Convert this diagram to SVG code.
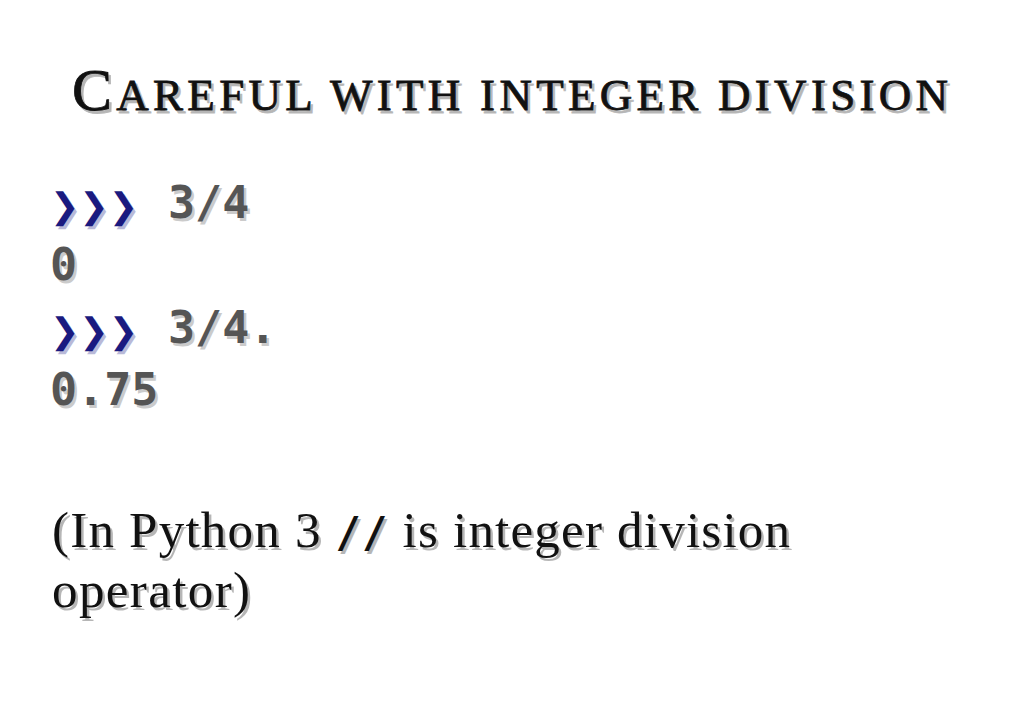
<svg xmlns="http://www.w3.org/2000/svg" xmlns:xlink="http://www.w3.org/1999/xlink" width="1024" height="717" viewBox="0 0 1024 717">
<style>
.t{font-family:"Liberation Serif",serif;font-size:60px;fill:#111;stroke:#111;stroke-width:0.8}
.c{font-family:"DejaVu Sans Mono",monospace;font-weight:bold;font-size:45px;fill:#555}
.p{fill:#1a1a80;font-family:"DejaVu Sans",sans-serif}
.b{font-family:"Liberation Serif",serif;font-size:51px;fill:#111}
.m{font-family:"DejaVu Sans Mono",monospace;font-weight:bold;font-size:42px}
</style>
<rect width="1024" height="717" fill="#fff"/>
<defs>
<g id="all">
<text class="t" x="72" y="110" textLength="876">C<tspan font-size="45">AREFUL WITH INTEGER DIVISION</tspan></text>
<text class="c" x="50" y="218"><tspan class="p" font-size="35">❯❯❯</tspan><tspan x="168">3/4</tspan></text>
<text class="c" x="50" y="280">0</text>
<text class="c" x="50" y="343"><tspan class="p" font-size="35">❯❯❯</tspan><tspan x="168">3/4.</tspan></text>
<text class="c" x="50" y="405">0.75</text>
<text class="b" x="52" y="547" textLength="738">(In Python 3 <tspan class="m">//</tspan> is integer division</text>
<text class="b" x="52" y="607" textLength="198">operator)</text>
</g>
</defs>
<use xlink:href="#all" transform="translate(2.5,2.5)" style="opacity:0.3"/>
<use xlink:href="#all"/>
</svg>
